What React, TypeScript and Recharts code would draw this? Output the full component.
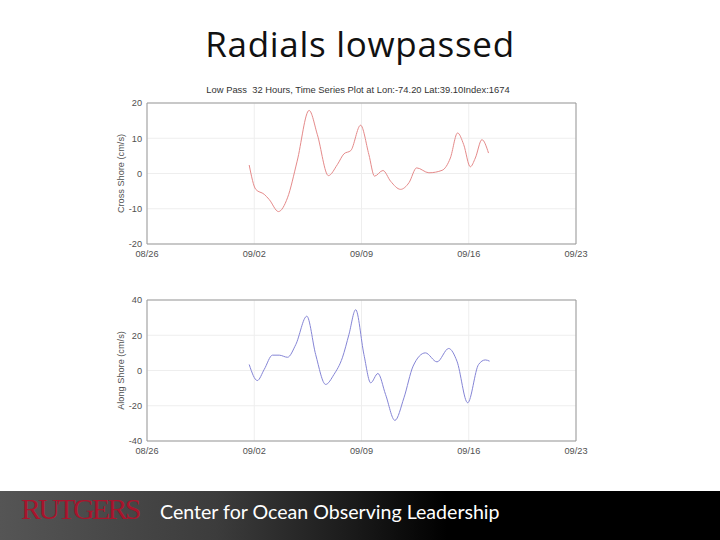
import { LineChart, Line, XAxis, YAxis, CartesianGrid, ReferenceArea, Label } from 'recharts'

// days counted from 08/26
const tickDays = [0, 7, 14, 21, 28]
const tickLabels = ['08/26', '09/02', '09/09', '09/16', '09/23']

const crossDays = [6.67, 7.1, 7.65, 7.98, 8.58, 9.17, 9.8, 10.58, 11.12, 11.84, 12.42, 12.86, 13.3, 13.94, 14.48, 14.85, 15.4, 15.9, 16.55, 17.1, 17.6, 18.4, 19.26, 19.8, 20.27, 20.67, 21.1, 21.43, 21.86, 22.29]
const crossShore = [2.4, -4.5, -5.9, -7.4, -10.8, -6.9, 3.5, 17.9, 11, -0.6, 2.5, 5.6, 6.5, 13.7, 5.4, -0.75, 0.85, -2.2, -4.5, -2.6, 1.6, 0.2, 0.9, 4.4, 11.5, 8.2, 1.9, 4.4, 9.6, 5.8]

const alongDays = [6.67, 7.2, 7.65, 8.19, 8.63, 9.17, 9.71, 10.43, 11.01, 11.66, 12.2, 12.75, 13.18, 13.62, 14.16, 14.6, 15.07, 15.57, 16.18, 16.77, 17.37, 18.17, 18.93, 19.69, 20.23, 20.93, 21.64, 22.08, 22.36]
const alongShore = [3.4, -5.7, 0.6, 8.7, 8.7, 7.5, 14.7, 30.8, 9, -7.9, -2.3, 7.2, 20.4, 34.5, 9, -7, -1.7, -13.6, -28.3, -15.5, 2.5, 10, 4.9, 12.5, 5.3, -18.3, 3.4, 6, 5.3]

const crossTicks = [-20, -10, 0, 10, 20]
const alongTicks = [-40, -20, 0, 20, 40]

const font = 'Liberation Sans, Arial, sans-serif'
const tickStyle = { fontSize: 9.2, fill: '#505050', fontFamily: font }

interface PanelProps {
    top: number
    days: number[]
    values: number[]
    yTicks: number[]
    color: string
    label: string
}

function Panel({ top, days, values, yTicks, color, label }: PanelProps) {
    const data = days.map((d, i) => ({ day: d, v: values[i] }))
    const yMin = yTicks[0]
    const yMax = yTicks[yTicks.length - 1]
    return (
        <div style={{ position: 'absolute', left: 0, top }}>
            <LineChart
                width={720}
                height={190}
                data={data}
                margin={{ top: 23, right: 144, bottom: 6, left: 0 }}
            >
                <CartesianGrid stroke="#eeeeee" />
                <XAxis
                    dataKey="day"
                    type="number"
                    domain={[0, 28]}
                    ticks={tickDays}
                    tickFormatter={(v: number) => tickLabels[tickDays.indexOf(v)]}
                    axisLine={false}
                    tickLine={false}
                    tickSize={4}
                    height={20}
                    tick={tickStyle}
                    interval={0}
                />
                <YAxis
                    type="number"
                    domain={[yMin, yMax]}
                    ticks={yTicks}
                    axisLine={false}
                    tickLine={false}
                    tickSize={3}
                    width={147}
                    tick={tickStyle}
                    interval={0}
                >
                    <Label
                        value={label}
                        angle={-90}
                        position="center"
                        dx={47}
                        style={{ fontSize: 9.2, fill: '#505050', fontFamily: font }}
                    />
                </YAxis>
                <ReferenceArea x1={0} x2={28} y1={yMin} y2={yMax} fill="none" stroke="#999" strokeWidth={1} />
                <Line
                    type="monotone"
                    dataKey="v"
                    stroke={color}
                    strokeWidth={1}
                    dot={false}
                    isAnimationActive={false}
                />
            </LineChart>
        </div>
    )
}

export default function App() {
    return (
        <div style={{ position: 'fixed', left: 0, top: 0, width: 720, height: 540, background: '#fff', overflow: 'hidden' }}>
            <div
                style={{
                    position: 'absolute',
                    left: 0,
                    width: 720,
                    top: 21,
                    textAlign: 'center',
                    fontFamily: 'Open Sans, sans-serif',
                    fontSize: 35,
                    letterSpacing: 0.7,
                    color: '#111',
                    lineHeight: '46px',
                }}
            >
                Radials lowpassed
            </div>
            <div
                style={{
                    position: 'absolute',
                    left: 100,
                    width: 516,
                    top: 84,
                    textAlign: 'center',
                    fontFamily: font,
                    fontSize: 9.4,
                    color: '#333',
                    whiteSpace: 'pre',
                }}
            >
                {'Low Pass  32 Hours, Time Series Plot at Lon:-74.20 Lat:39.10Index:1674'}
            </div>
            <Panel top={80} days={crossDays} values={crossShore} yTicks={crossTicks} color="#e58a8a" label="Cross Shore (cm/s)" />
            <Panel top={277} days={alongDays} values={alongShore} yTicks={alongTicks} color="#8585d6" label="Along Shore (cm/s)" />
            <div
                style={{
                    position: 'absolute',
                    left: 0,
                    top: 491,
                    width: 720,
                    height: 49,
                    background: 'linear-gradient(90deg, #555 0%, #3c3c3c 30%, #1c1c1c 48%, #000 62%, #000 100%)',
                }}
            >
                <span
                    style={{
                        position: 'absolute',
                        left: 21,
                        top: 1,
                        fontFamily: 'Liberation Serif, serif',
                        fontSize: 30,
                        color: '#a8142c',
                        letterSpacing: -2.7,
                    }}
                >
                    RUTGERS
                </span>
                <span
                    style={{
                        position: 'absolute',
                        left: 160,
                        top: 9,
                        fontFamily: 'Lato, sans-serif',
                        fontSize: 19.6,
                        color: '#fff',
                    }}
                >
                    Center for Ocean Observing Leadership
                </span>
            </div>
        </div>
    )
}
